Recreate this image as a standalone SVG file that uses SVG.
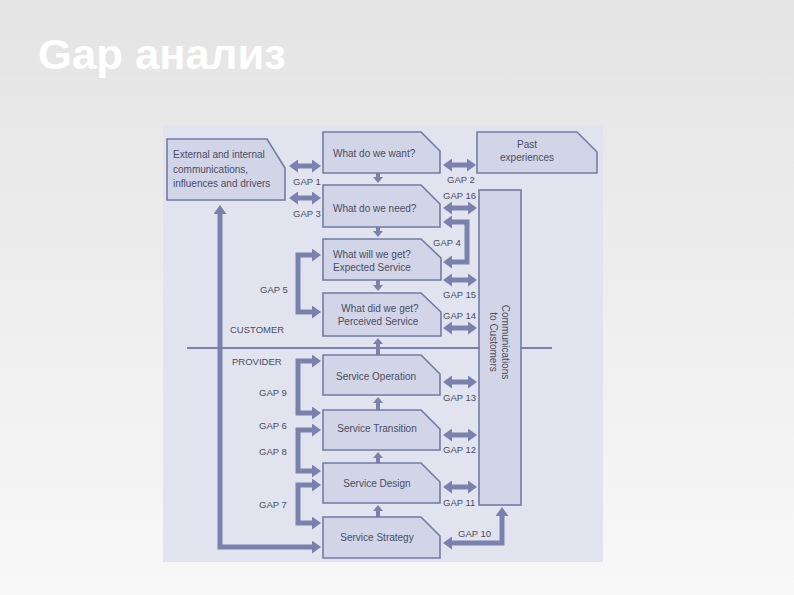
<svg xmlns="http://www.w3.org/2000/svg" width="794" height="595" viewBox="0 0 794 595">
<defs>
<linearGradient id="bg" x1="0" y1="0" x2="0" y2="1">
<stop offset="0" stop-color="#e4e4e4"/>
<stop offset="1" stop-color="#f8f8f8"/>
</linearGradient>
<marker id="ah" markerUnits="userSpaceOnUse" viewBox="0 0 9 13" markerWidth="9" markerHeight="13" refX="1" refY="6.5" orient="auto-start-reverse">
<path d="M0,0 L9,6.5 L0,13 Z" fill="#7a81ad"/>
</marker>
<marker id="sm" markerUnits="userSpaceOnUse" viewBox="0 0 6 10" markerWidth="6" markerHeight="10" refX="1" refY="5" orient="auto">
<path d="M0,0 L6,5 L0,10 Z" fill="#7a81ad"/>
</marker>
<style>
.box{fill:#d2d5e7;stroke:#737ba5;stroke-width:1.6}
.t{font-family:"Liberation Sans",Arial,sans-serif;font-size:10px;fill:#4a4c62}
.lb{font-family:"Liberation Sans",Arial,sans-serif;font-size:9.5px;fill:#4a4c62}
.c{fill:none;stroke:#7a81ad;stroke-width:5;marker-start:url(#ah);marker-end:url(#ah)}
.s{fill:none;stroke:#7a81ad;stroke-width:4;marker-end:url(#sm)}
</style>
</defs>
<rect x="0" y="0" width="794" height="595" fill="url(#bg)"/>
<text x="38" y="69" font-family="Liberation Sans,Arial,sans-serif" font-size="42" font-weight="bold" fill="#ffffff" textLength="248" lengthAdjust="spacingAndGlyphs">Gap анализ</text>
<rect x="163" y="125" width="440" height="437" fill="#e1e3ee"/>
<line x1="187" y1="348" x2="552" y2="348" stroke="#7a81ad" stroke-width="2"/>
<text class="lb" x="230" y="333">CUSTOMER</text>
<text class="lb" x="232" y="365">PROVIDER</text>

<g id="connectors">
<path class="c" d="M297,166 H313"/>
<path class="c" d="M297,198 H313"/>
<path class="c" d="M451,165 H468"/>
<path class="c" d="M451,208 H469"/>
<path class="c" d="M451,222 H467 V262 H451"/>
<path class="c" d="M451,280 H469"/>
<path class="c" d="M451,328 H469"/>
<path class="c" d="M451,382 H469"/>
<path class="c" d="M451,435 H469"/>
<path class="c" d="M451,487 H469"/>
<path class="c" d="M451,543 H502 V515"/>
<path class="c" d="M313,255 H298 V312 H313"/>
<path class="c" d="M313,361 H298 V413 H313"/>
<path class="c" d="M313,430 H298 V471 H313"/>
<path class="c" d="M313,485 H298 V523 H313"/>
<path class="c" d="M313,547 H220 V213"/>
<path class="s" d="M378,173 V178"/>
<path class="s" d="M378,227 V232"/>
<path class="s" d="M378,280 V286"/>
<path class="s" d="M378,355 V343"/>
<path class="s" d="M378,410 V402"/>
<path class="s" d="M378,463 V457"/>
<path class="s" d="M378,517 V510"/>
</g>

<g id="labels">
<text class="lb" x="293" y="185">GAP 1</text>
<text class="lb" x="293" y="217">GAP 3</text>
<text class="lb" x="447" y="183">GAP 2</text>
<text class="lb" x="443" y="199">GAP 16</text>
<text class="lb" x="433" y="246">GAP 4</text>
<text class="lb" x="443" y="298">GAP 15</text>
<text class="lb" x="443" y="319">GAP 14</text>
<text class="lb" x="443" y="401">GAP 13</text>
<text class="lb" x="443" y="453">GAP 12</text>
<text class="lb" x="443" y="506">GAP 11</text>
<text class="lb" x="458" y="537" font-size="10.5">GAP 10</text>
<text class="lb" x="260" y="293">GAP 5</text>
<text class="lb" x="259" y="396">GAP 9</text>
<text class="lb" x="259" y="429">GAP 6</text>
<text class="lb" x="259" y="455">GAP 8</text>
<text class="lb" x="259" y="508">GAP 7</text>
</g>

<g id="external">
<path class="box" d="M167,139 H267 L285,168 V200 H167 Z"/>
<text class="t" x="173" y="158">External and internal</text>
<text class="t" x="173" y="173">communications,</text>
<text class="t" x="173" y="187">influences and drivers</text>
</g>
<g id="want">
<path class="box" d="M323,132 H421 L440,151 V173 H323 Z"/>
<text class="t" x="333" y="157">What do we want?</text>
</g>
<g id="past">
<path class="box" d="M477,132 H577 L597,152 V173 H477 Z"/>
<text class="t" x="527" y="148" text-anchor="middle">Past</text>
<text class="t" x="527" y="161" text-anchor="middle">experiences</text>
</g>
<g id="need">
<path class="box" d="M323,185 H421 L440,204 V227 H323 Z"/>
<text class="t" x="333" y="212">What do we need?</text>
</g>
<g id="expected">
<path class="box" d="M323,239 H421 L441,258 V280 H323 Z"/>
<text class="t" x="333" y="258">What will we get?</text>
<text class="t" x="333" y="271">Expected Service</text>
</g>
<g id="perceived">
<path class="box" d="M323,293 H421 L441,312 V336 H323 Z"/>
<text class="t" x="380" y="312" text-anchor="middle">What did we get?</text>
<text class="t" x="378" y="325" text-anchor="middle">Perceived Service</text>
</g>
<g id="communications">
<rect class="box" x="479" y="190" width="42" height="315" stroke-width="2"/>
<g transform="translate(500,342) rotate(90)">
<text class="t" x="0" y="-2" text-anchor="middle">Communications</text>
<text class="t" x="0" y="10" text-anchor="middle">to Customers</text>
</g>
</g>
<g id="operation">
<path class="box" d="M323,355 H421 L440,374 V395 H323 Z"/>
<text class="t" x="376" y="380" text-anchor="middle">Service Operation</text>
</g>
<g id="transition">
<path class="box" d="M323,410 H421 L440,429 V450 H323 Z"/>
<text class="t" x="377" y="432" text-anchor="middle">Service Transition</text>
</g>
<g id="design">
<path class="box" d="M323,463 H421 L440,482 V503 H323 Z"/>
<text class="t" x="377" y="487" text-anchor="middle">Service Design</text>
</g>
<g id="strategy">
<path class="box" d="M323,517 H421 L440,536 V558 H323 Z"/>
<text class="t" x="377" y="541" text-anchor="middle">Service Strategy</text>
</g>
</svg>
